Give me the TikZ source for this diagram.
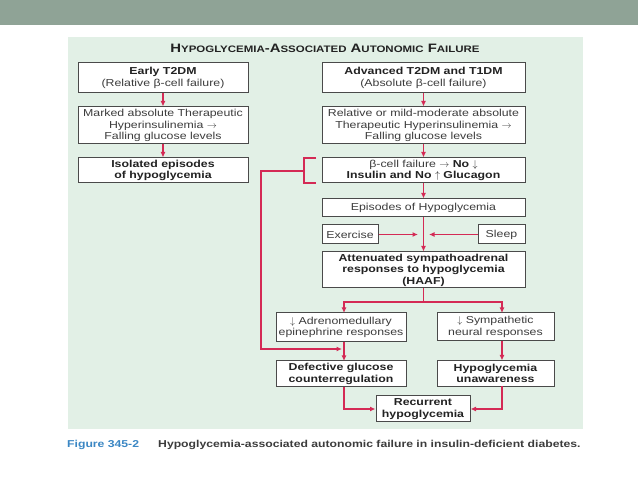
\documentclass[tikz,border=0pt]{standalone}
\usepackage{fontspec}
\setmainfont{Liberation Sans}[FakeStretch=1.22]
\usetikzlibrary{arrows.meta}
\definecolor{barcol}{HTML}{8FA396}
\definecolor{panelcol}{HTML}{E2F0E6}
\definecolor{arrowred}{HTML}{D42A55}
\definecolor{txtcol}{HTML}{3C3C3C}
\definecolor{boldcol}{HTML}{222222}
\definecolor{figblue}{HTML}{3B87C4}
\definecolor{boxline}{HTML}{4A4A4A}
\tikzset{
  box/.style={draw=boxline, line width=1pt, fill=white, inner sep=0pt, align=center,
    text=txtcol, font=\fontsize{10.1}{11.6}\selectfont},
  boldbox/.style={box, text=boldcol, font=\fontsize{10.1}{11.6}\selectfont\bfseries},
  conn/.style={draw=arrowred, line width=1.2pt},
  arr/.style={conn, -{Latex[length=5.5pt,width=5pt]}},
}
\newcommand{\sm}[1]{{\fontsize{9.4}{9.4}\selectfont #1}}
\newcommand{\ra}{$\rightarrow$}
\newcommand{\da}{$\downarrow$}
\newcommand{\ua}{$\uparrow$}
\begin{document}
\begin{tikzpicture}[x=1pt,y=-1pt]
\useasboundingbox (0,0) rectangle (638,478);
\fill[white] (0,0) rectangle (638,478);
\fill[barcol] (0,0) rectangle (638,25);
\fill[panelcol] (68,37) rectangle (583,429);

\node[text=boldcol, font=\fontsize{12.2}{13}\selectfont\bfseries] (title) at (325,48)
  {H\sm{YPOGLYCEMIA}-A\sm{SSOCIATED} A\sm{UTONOMIC} F\sm{AILURE}};

% left column
\node[box, minimum width=170pt, minimum height=30pt] (early) at (163,78)
  {\textbf{\color{boldcol}Early T2DM}\\(Relative β-cell failure)};
\node[box, minimum width=170pt, minimum height=37pt] (marked) at (163,125.5)
  {Marked absolute Therapeutic\\Hyperinsulinemia \ra\\Falling glucose levels};
\node[boldbox, minimum width=170pt, minimum height=25pt] (isolated) at (163,170.5)
  {Isolated episodes\\of hypoglycemia};

% right column
\node[box, minimum width=203pt, minimum height=30pt] (adv) at (423.5,78)
  {\textbf{\color{boldcol}Advanced T2DM and T1DM}\\(Absolute β-cell failure)};
\node[box, minimum width=203pt, minimum height=37pt] (rel) at (423.5,125.5)
  {Relative or mild-moderate absolute\\Therapeutic Hyperinsulinemia \ra\\Falling glucose levels};
\node[box, minimum width=203pt, minimum height=25pt] (beta) at (423.5,170.5)
  {β-cell failure \ra\ \textbf{\color{boldcol}No \da}\\\textbf{\color{boldcol}Insulin and No \ua\ Glucagon}};
\node[box, minimum width=203pt, minimum height=18pt] (episodes) at (423.5,208)
  {Episodes of Hypoglycemia};
\node[box, minimum width=56pt, minimum height=19pt] (exercise) at (350,234.5) {Exercise};
\node[box, minimum width=47pt, minimum height=19pt] (sleep) at (501.5,234.5) {Sleep};
\node[boldbox, minimum width=203pt, minimum height=36pt] (haaf) at (423.5,270)
  {Attenuated sympathoadrenal\\responses to hypoglycemia\\(HAAF)};
\node[box, minimum width=130pt, minimum height=29pt] (adreno) at (341,327.5)
  {\da\ Adrenomedullary\\epinephrine responses};
\node[box, minimum width=117pt, minimum height=28pt] (symp) at (495.5,327)
  {\da\ Sympathetic\\neural responses};
\node[boldbox, minimum width=130pt, minimum height=26pt] (defective) at (341,374)
  {Defective glucose\\counterregulation};
\node[boldbox, minimum width=117pt, minimum height=26pt] (unaware) at (495.5,373.5)
  {Hypoglycemia\\unawareness};
\node[boldbox, minimum width=94pt, minimum height=26pt] (recurrent) at (423,409)
  {Recurrent\\hypoglycemia};

% caption
\node[anchor=west, inner sep=0pt, text=figblue, font=\fontsize{10}{12}\selectfont\bfseries] (fig) at (67,445) {Figure 345-2};
\node[anchor=west, inner sep=0pt, text=txtcol, font=\fontsize{10}{12}\selectfont\bfseries] (cap) at (158,445)
  {Hypoglycemia-associated autonomic failure in insulin-deficient diabetes.};

% connectors
\draw[arr] (early) -- (marked);
\draw[arr] (marked) -- (isolated);
\draw[arr] (adv) -- (rel);
\draw[arr] (rel) -- (beta);
\draw[arr] (beta) -- (episodes);
\coordinate (exin) at (418,234.5);
\coordinate (slin) at (429,234.5);
\draw[arr] (episodes.south) -- (haaf.north);
\draw[arr] (exercise.east) -- (exin);
\draw[arr] (sleep.west) -- (slin);

\coordinate (split) at (423.5,302);
\coordinate (adtop) at (344,313);
\coordinate (sytop) at (502,313);
\draw[conn] (haaf.south) -- (split);
\draw[arr] (split) -| (adtop);
\draw[arr] (split) -| (sytop);

\coordinate (adbot) at (344,342);
\coordinate (detop) at (344,361);
\draw[arr] (adbot) -- (detop);
\coordinate (sybot) at (502,341);
\coordinate (untop) at (502,360.5);
\draw[arr] (sybot) -- (untop);

% bracket and feedback loop
\coordinate (bt) at (316,158);
\coordinate (bb) at (316,183);
\coordinate (bm) at (304,171);
\coordinate (loopin) at (342,349);
\draw[conn] (bt) -- (304,158) -- (304,183) -- (bb);
\draw[arr] (bm) -- (261,171) -- (261,349) -- (loopin);

% to recurrent
\coordinate (debot) at (344,387);
\coordinate (unbot) at (502,386.5);
\draw[arr] (debot) |- (recurrent.west);
\draw[arr] (unbot) |- (recurrent.east);
\end{tikzpicture}
\end{document}
